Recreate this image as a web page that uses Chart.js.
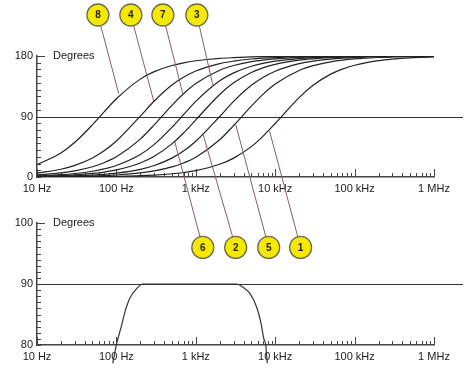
<!DOCTYPE html>
<html>
<head>
<meta charset="utf-8">
<script src="https://cdn.jsdelivr.net/npm/chart.js@4.4.1/dist/chart.umd.min.js"></script>
<style>
  html, body { margin: 0; padding: 0; background: #fff; }
  #wrap { position: relative; width: 474px; height: 368px; }
  canvas { position: absolute; left: 0; }
</style>
</head>
<body>
<div id="wrap">
  <canvas id="phase" width="474" height="200" style="top:0"></canvas>
  <canvas id="diff" width="474" height="168" style="top:200px"></canvas>
  <canvas id="marks" width="474" height="368" style="top:0"></canvas>
</div>
<script>
// frequency decades and their labels
var decades = [10, 100, 1000, 10000, 100000, 1000000];
var freqLabels = ['10 Hz', '100 Hz', '1 kHz', '10 kHz', '100 kHz', '1 MHz'];

// upper plot: phase curves, left to right
var freqs = [10, 20, 30, 50, 70, 100, 200, 300, 500, 700, 1000, 2000, 3000, 5000, 7000,
             10000, 20000, 30000, 50000, 70000, 100000, 200000, 300000, 500000, 700000, 1000000];
var curve8 = [18.3, 35.7, 51.6, 77.8, 96.9, 116.4, 145.6, 156.7, 165.9, 169.9, 172.9, 176.5, 177.6, 178.6, 179.0,
              179.3, 179.6, 179.8, 179.9, 180, 180, 180, 180, 180, 180, 180];
var curve4 = [5.8, 11.5, 17.2, 28.3, 38.9, 53.6, 90.6, 113.1, 136.8, 148.4, 157.6, 168.7, 172.4, 175.5, 176.8,
              177.7, 178.9, 179.2, 179.5, 179.7, 179.8, 179.9, 180, 180, 180, 180];
var curve7 = [3.1, 6.1, 9.2, 15.3, 21.3, 30.0, 56.4, 77.6, 106.6, 123.9, 139.1, 158.9, 165.8, 171.5, 173.9,
              175.7, 177.9, 178.6, 179.1, 179.4, 179.6, 179.8, 179.9, 179.9, 179.9, 180];
var curve3 = [1.7, 3.4, 5.2, 8.6, 12.0, 17.1, 33.4, 48.5, 73.7, 92.7, 112.6, 143.1, 154.9, 164.8, 169.1,
              172.4, 176.2, 177.5, 178.5, 178.9, 179.2, 179.6, 179.7, 179.8, 179.9, 179.9];
var curve6 = [1.1, 2.1, 3.2, 5.3, 7.3, 10.5, 20.8, 30.8, 49.3, 65.4, 85.0, 122.8, 140.1, 155.4, 162.3,
              167.6, 173.8, 175.8, 177.5, 178.2, 178.8, 179.4, 179.6, 179.7, 179.8, 179.9];
var curve2 = [0.6, 1.1, 1.7, 2.9, 4.0, 5.7, 11.4, 17.1, 28.1, 38.6, 53.1, 90.0, 112.6, 136.4, 148.1,
              157.4, 168.6, 172.4, 175.4, 176.7, 177.7, 178.9, 179.2, 179.5, 179.7, 179.8];
var curve5 = [0.3, 0.6, 0.9, 1.5, 2.1, 3.0, 6.0, 9.0, 15.0, 20.9, 29.5, 55.5, 76.6, 105.5, 123.0,
              138.4, 158.5, 165.6, 171.3, 173.8, 175.6, 177.8, 178.5, 179.1, 179.4, 179.6];
var curve1 = [0.1, 0.2, 0.3, 0.5, 0.7, 1.0, 1.9, 2.9, 4.8, 6.7, 9.5, 18.9, 28.1, 45.2, 60.5,
              79.6, 118.1, 136.4, 153.0, 160.5, 166.3, 173.1, 175.4, 177.3, 178.0, 178.6];
var phaseCurves = [curve8, curve4, curve7, curve3, curve6, curve2, curve5, curve1];

// lower plot
var diffFreqs = [90, 101, 114, 128, 148, 181, 215, 3280, 3900, 4780, 5850, 6570, 7170, 7600, 7950];
var diffVals = [77, 80.3, 82.8, 85.4, 87.7, 89.3, 90, 90, 89.5, 88.5, 86.2, 83.8, 81.1, 80, 77];

// y tick labels
var topYLabels = [0, 90, 180];
var bottomYLabels = [80, 90, 100];

// numbered callouts: where the leader touches the curve, and where the bubble sits
var calloutText = ['8', '4', '7', '3', '6', '2', '5', '1'];
var calloutFreq = [107, 295, 686, 1640, 545, 1225, 3180, 8500];
var calloutDeg = [124, 113, 124, 137, 52, 65, 78, 68];
var bubbleFreq = [58.5, 152, 385, 1030, 1225, 3180, 8280, 20900];
var topBubbleDeg = 241;
var bottomBubbleDeg = 96;

var FONT = '"Liberation Sans", Arial, sans-serif';
var INK = '#1a1a1a';

function buildLogTicks(scale) {
  var t = [];
  decades.forEach(function(d, i) {
    t.push({ value: d });
    if (i < decades.length - 1) {
      for (var m = 2; m < 10; m++) t.push({ value: d * m });
    }
  });
  scale.ticks = t;
}

function buildLinTicks(step) {
  return function(scale) {
    var t = [];
    for (var v = scale.min; v <= scale.max + 1e-9; v += step) t.push({ value: v });
    scale.ticks = t;
  };
}

// inward tick marks, reference line at 90 and the "Degrees" caption
var panelDecor = {
  id: 'panelDecor',
  beforeDatasetsDraw: function(chart, args, opts) {
    var ctx = chart.ctx, x = chart.scales.x, y = chart.scales.y, a = chart.chartArea;
    ctx.save();
    ctx.strokeStyle = '#444';
    ctx.lineWidth = 1;
    ctx.beginPath();
    x.ticks.forEach(function(t) {
      var px = Math.round(x.getPixelForValue(t.value)) + 0.5;
      var len = decades.indexOf(t.value) >= 0 ? 8 : 4;
      ctx.moveTo(px, a.bottom);
      ctx.lineTo(px, a.bottom - len);
    });
    y.ticks.forEach(function(t) {
      var py = Math.round(y.getPixelForValue(t.value)) + 0.5;
      var len = t.value === y.max ? 8 : 4;
      ctx.moveTo(a.left, py);
      ctx.lineTo(a.left + len, py);
    });
    ctx.stroke();

    var ry = Math.round(y.getPixelForValue(opts.refLine)) + 0.5;
    ctx.strokeStyle = '#333';
    ctx.lineWidth = 1.2;
    ctx.beginPath();
    ctx.moveTo(a.left, ry);
    ctx.lineTo(a.right + 29, ry);
    ctx.stroke();

    ctx.fillStyle = INK;
    ctx.font = '11px ' + FONT;
    ctx.textBaseline = 'middle';
    ctx.fillText('Degrees', a.left + 16, a.top);
    ctx.restore();
  }
};

function axisOptions(yMin, yMax, step, yLabels) {
  return {
    x: {
      type: 'logarithmic',
      min: 10,
      max: 1000000,
      afterBuildTicks: buildLogTicks,
      afterFit: function(s) { s.height = 23; },
      grid: { display: false, drawTicks: false },
      border: { display: true, color: '#444', width: 1.5 },
      ticks: {
        autoSkip: false,
        maxRotation: 0,
        padding: 5,
        color: INK,
        font: { family: FONT, size: 11 },
        callback: function(v) {
          var i = decades.indexOf(v);
          return i >= 0 ? freqLabels[i] : '';
        }
      }
    },
    y: {
      min: yMin,
      max: yMax,
      afterBuildTicks: buildLinTicks(step),
      afterFit: function(s) { s.width = 37; },
      grid: { display: false, drawTicks: false },
      border: { display: true, color: '#444', width: 1.5 },
      ticks: {
        autoSkip: false,
        padding: 4,
        color: INK,
        font: { family: FONT, size: 11 },
        callback: function(v) {
          return yLabels.indexOf(v) >= 0 ? String(v) : '';
        }
      }
    }
  };
}

var phaseChart = new Chart(document.getElementById('phase'), {
  type: 'line',
  data: {
    datasets: phaseCurves.map(function(c, i) {
      return {
        label: 'curve ' + i,
        data: freqs.map(function(f, j) { return { x: f, y: c[j] }; }),
        borderColor: '#222',
        borderWidth: 1.2,
        pointRadius: 0,
        cubicInterpolationMode: 'monotone',
        fill: false
      };
    })
  },
  options: {
    responsive: false,
    animation: false,
    events: [],
    layout: { padding: { top: 56, right: 40, left: 0, bottom: 0 } },
    scales: axisOptions(0, 180, 10, topYLabels),
    plugins: { legend: { display: false }, tooltip: { enabled: false }, panelDecor: { refLine: 90 } }
  },
  plugins: [panelDecor]
});

var diffChart = new Chart(document.getElementById('diff'), {
  type: 'line',
  data: {
    datasets: [{
      label: 'difference',
      data: diffFreqs.map(function(f, j) { return { x: f, y: diffVals[j] }; }),
      borderColor: '#333',
      borderWidth: 1.2,
      pointRadius: 0,
      cubicInterpolationMode: 'monotone',
      clip: false,
      fill: false
    }]
  },
  options: {
    responsive: false,
    animation: false,
    events: [],
    layout: { padding: { top: 23, right: 40, left: 0, bottom: 0 } },
    scales: axisOptions(80, 100, 1, bottomYLabels),
    plugins: { legend: { display: false }, tooltip: { enabled: false }, panelDecor: { refLine: 90 } }
  },
  plugins: [panelDecor]
});

// callouts span both panels, so they go on a transparent canvas on top
function drawCallouts() {
  var cv = document.getElementById('marks');
  var ctx = cv.getContext('2d');
  var tx = phaseChart.scales.x, ty = phaseChart.scales.y;
  var bx = diffChart.scales.x, by = diffChart.scales.y;
  var off = document.getElementById('diff').offsetTop;
  calloutText.forEach(function(txt, i) {
    var ax = tx.getPixelForValue(calloutFreq[i]);
    var ay = ty.getPixelForValue(calloutDeg[i]);
    var cx, cy;
    if (i < 4) {
      cx = tx.getPixelForValue(bubbleFreq[i]);
      cy = ty.getPixelForValue(topBubbleDeg);
    } else {
      cx = bx.getPixelForValue(bubbleFreq[i]);
      cy = by.getPixelForValue(bottomBubbleDeg) + off;
    }
    ctx.strokeStyle = '#8c5a6e';
    ctx.lineWidth = 1;
    ctx.beginPath();
    ctx.moveTo(cx, cy);
    ctx.lineTo(ax, ay);
    ctx.stroke();

    ctx.beginPath();
    ctx.arc(cx, cy, 11, 0, Math.PI * 2);
    ctx.fillStyle = '#f6e900';
    ctx.fill();
    ctx.strokeStyle = '#6b6b55';
    ctx.lineWidth = 1.3;
    ctx.stroke();

    ctx.fillStyle = '#222';
    ctx.font = 'bold 10px ' + FONT;
    ctx.textAlign = 'center';
    ctx.textBaseline = 'middle';
    ctx.fillText(txt, cx, cy + 0.5);
  });
}
drawCallouts();
</script>
</body>
</html>
